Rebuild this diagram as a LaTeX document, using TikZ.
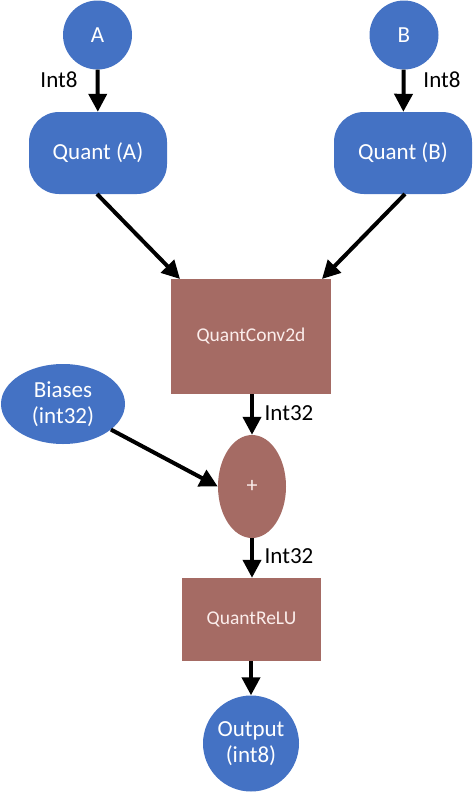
\documentclass[tikz,border=0pt]{standalone}
\usepackage{fontspec}
\setmainfont{Carlito}
\usetikzlibrary{arrows.meta,shapes.geometric}
\definecolor{nblue}{HTML}{4472C4}
\definecolor{nbrown}{HTML}{A56B64}
\definecolor{ltext}{HTML}{FBEDEB}
\tikzset{
  bluecirc/.style={circle,fill=nblue,text=white,inner sep=0pt,font=\fontsize{23}{26}\selectfont,align=center},
  bluebox/.style={rectangle,rounded corners=30pt,fill=nblue,text=white,inner sep=0pt,font=\fontsize{23}{26}\selectfont},
  brownbox/.style={rectangle,fill=nbrown,text=ltext,inner sep=0pt,font=\fontsize{19.5}{22}\selectfont},
  blueell/.style={ellipse,fill=nblue,text=white,inner sep=0pt,font=\fontsize{23}{26}\selectfont,align=center},
  brownell/.style={ellipse,fill=nbrown,text=ltext,inner sep=0pt,font=\fontsize{22}{24}\selectfont},
  conn/.style={line width=4pt,-{Triangle[length=18pt,width=18pt]}},
  lbl/.style={font=\fontsize{23}{26}\selectfont,text=black,inner sep=0pt}
}
\begin{document}
\begin{tikzpicture}[x=1pt,y=-1pt]
\useasboundingbox (0,0) rectangle (474,793);
\node[bluecirc,minimum size=69pt] (A) at (97.5,35) {A};
\node[bluecirc,minimum size=69pt] (B) at (404,35) {B};
\node[bluebox,minimum width=138pt,minimum height=82pt] (QA) at (98,153) {Quant (A)};
\node[bluebox,minimum width=138pt,minimum height=82pt] (QB) at (403,153) {Quant (B)};
\node[brownbox,minimum width=160pt,minimum height=115pt] (conv) at (251,336.5) {QuantConv2d};
\node[blueell,minimum width=124pt,minimum height=80pt] (bias) at (63,404) {Biases\\(int32)};
\node[brownell,minimum width=68pt,minimum height=103pt] (plus) at (252,486.5) {+};
\node[brownbox,minimum width=139pt,minimum height=83pt] (relu) at (251.5,619.5) {QuantReLU};
\node[bluecirc,minimum size=96pt] (out) at (251,743.5) {Output\\(int8)};
\draw[conn] (A) -- (QA);
\draw[conn] (B) -- (QB);
\draw[conn] (97,194) -- (180,279);
\draw[conn] (405,194) -- (322,279);
\draw[conn] (conv.south -| plus.north) -- (plus.north);
\draw[conn] (bias) -- (plus.west);
\draw[conn] (plus.south) -- (plus.south |- relu.north);
\draw[conn] (relu.south -| out.north) -- (out.north);
\node[lbl] (l1) at (59,80) {Int8};
\node[lbl] (l2) at (442,80) {Int8};
\node[lbl] (l3) at (289,413) {Int32};
\node[lbl] (l4) at (289,556) {Int32};
\end{tikzpicture}
\end{document}
